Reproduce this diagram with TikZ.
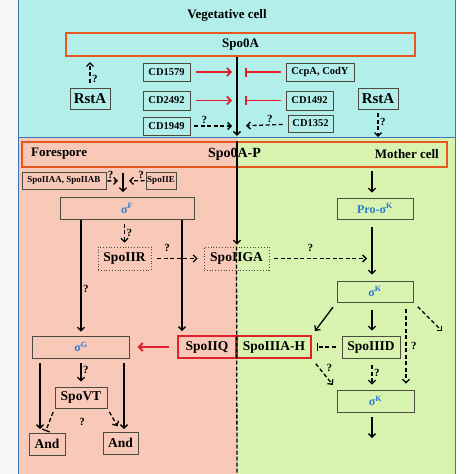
\documentclass[tikz,border=0pt]{standalone}
\usepackage{fontspec}
\setmainfont{Liberation Serif}
\usetikzlibrary{arrows.meta}
\definecolor{vegbg}{HTML}{B2EFEA}
\definecolor{forebg}{HTML}{F8C8B8}
\definecolor{motherbg}{HTML}{D8F3B0}
\definecolor{framec}{HTML}{3D74B8}
\definecolor{orangec}{HTML}{E8581C}
\definecolor{redc}{HTML}{E0202C}
\definecolor{boxline}{HTML}{4A4A40}
\definecolor{sigblue}{HTML}{2C7BD0}
\newcommand{\sgm}[1]{σ\textsuperscript{#1}}
\tikzset{
  sz/.style 2 args={minimum width=#1pt, minimum height=#2pt},
  gene/.style={draw=boxline, line width=0.8pt, inner sep=0pt, font=\bfseries\fontsize{10.5}{12}\selectfont},
  big/.style={gene, font=\bfseries\fontsize{13.5}{15}\selectfont},
  small/.style={gene, font=\bfseries\fontsize{9}{10}\selectfont},
  dotbox/.style={big, dotted},
  sigbox/.style={gene, text=sigblue, font=\bfseries\fontsize{12}{14}\selectfont},
  sporect/.style={draw=orangec, line width=2.4pt, inner sep=0pt, font=\bfseries\fontsize{13}{15}\selectfont},
  redbox/.style={big, draw=redc, line width=2pt},
  lbl/.style={font=\bfseries\fontsize{13}{15}\selectfont, inner sep=0pt},
  q/.style={font=\bfseries\fontsize{11}{12}\selectfont, inner sep=1.5pt},
  arr/.style={-{Straight Barb[length=3.5pt,width=7pt]}, line width=1.3pt},
  darr/.style={arr, dash pattern=on 4pt off 2.5pt},
  redarr/.style={-{Straight Barb[length=4pt,width=8pt]}, line width=1.6pt, draw=redc},
  redbar/.style={-{Bar[width=9pt]}, line width=1.6pt, draw=redc},
  dbar/.style={-{Bar[width=8pt]}, line width=1.3pt, dash pattern=on 4pt off 2.5pt},
  frame/.style={draw=framec, line width=1pt}
}
\begin{document}
\begin{tikzpicture}[x=1pt,y=-1pt]
\useasboundingbox (0,0) rectangle (474,474);
% backgrounds
\fill[white] (0,0) rectangle (474,474);
\fill[gray!7] (0,0) rectangle (18,474);
\fill[vegbg] (18,-5) rectangle (455,137);
\fill[forebg] (18,137) rectangle (237,480);
\fill[motherbg] (237,137) rectangle (455,480);
\draw[frame] (18,-5) rectangle (455,137);
\draw[frame] (18,137) rectangle (455,480);

% vegetative cell
\node[lbl] (veg) at (227,15) {Vegetative cell};
\node[sporect, sz={349}{23}] (spoa) at (240.5,44.5) {Spo0A};
\node[gene, sz={47}{18}] (cdA) at (166.5,72) {CD1579};
\node[gene, sz={68}{18}] (ccp) at (320,72) {CcpA, CodY};
\node[gene, sz={47}{19}] (cdB) at (166.5,100.5) {CD2492};
\node[gene, sz={47}{19}] (cdC) at (309.5,100.5) {CD1492};
\node[gene, sz={47}{18}] (cdD) at (166.5,126) {CD1949};
\node[gene, sz={45}{17}] (cdE) at (310.5,123.5) {CD1352};
\node[big, sz={40}{21}, font=\bfseries\fontsize{15}{17}\selectfont] (rstL) at (90,98.5) {RstA};
\node[big, sz={40}{21}, font=\bfseries\fontsize{15}{17}\selectfont] (rstR) at (378,98.5) {RstA};

% main line
\coordinate (jA) at (237,72);
\coordinate (jB) at (237,100.5);
\coordinate (jC) at (237,126);
\coordinate (rstup) at (90,62);
\coordinate (rstdn) at (378,137);

% forespore / mother cell
\node[sporect, sz={425}{25}, font=\bfseries\fontsize{14}{16}\selectfont] (spoap) at (234.5,154.5) {Spo0A-P};
\node[lbl, anchor=west] (fore) at (31,154) {Forespore};
\node[lbl, anchor=east] (moth) at (439,154) {Mother cell};

\node[small, sz={84}{17}] (iiaa) at (64,180.5) {SpoIIAA, SpoIIAB};
\node[small, sz={30}{17}] (iie) at (161,180.5) {SpoIIE};
\node[sigbox, sz={134}{22}] (sigF) at (127,208.5) {\sgm{F}};
\node[dotbox, sz={53}{23}] (iir) at (124.5,258.5) {SpoIIR};
\node[dotbox, sz={65}{23}] (iiga) at (236.5,258.5) {SpoIIGA};
\node[sigbox, sz={76}{21}] (prosk) at (375,208.5) {Pro-\sgm{K}};
\node[sigbox, sz={76}{21}] (sigK) at (375,291.5) {\sgm{K}};
\node[sigbox, sz={97}{22}] (sigG) at (81,347) {\sgm{G}};
\node[redbox, sz={58}{22}] (iiq) at (207,347) {SpoIIQ};
\node[redbox, sz={74}{22}] (iiia) at (274,347) {SpoIIIA-H};
\node[big, sz={58}{22}] (iiid) at (371,347) {SpoIIID};
\node[big, sz={52}{21}] (spovt) at (81,397.5) {SpoVT};
\node[sigbox, sz={77}{22}] (sigKb) at (375.5,401) {\sgm{K}};
\node[big, sz={36}{22}] (andL) at (47,444) {And};
\node[big, sz={35}{22}] (andR) at (120.5,443) {And};
\node[q] (qvt) at (82,422) {?};

\coordinate (jF) at (123,181);
\coordinate (mc) at (372,0);
\coordinate (qTop) at (182,336);
\coordinate (kOut) at (445,334);
\coordinate (kEnd) at (372,438);
\coordinate (gL) at (40,429);
\coordinate (gR) at (124,429);

% dividing line
\draw[line width=1.3pt, dash pattern=on 4pt off 2pt] (iiga.north) -- (237,474);

% arrows, vegetative cell
\draw[arr, shorten >=5pt] (spoa.south -| jA) -- (jA |- spoap.north);
\draw[arr, shorten >=2pt] (jA |- spoap.north) -- (jA |- iiga.north);
\draw[redarr, shorten <=6pt, shorten >=5pt] (cdA) -- (jA);
\draw[redbar, shorten <=5pt, shorten >=8pt] (ccp) -- (jA);
\draw[redarr, shorten <=6pt, shorten >=5pt] (cdB) -- (jB);
\draw[redbar, shorten <=5pt, shorten >=8pt] (cdC) -- (jB);
\draw[darr, shorten <=4pt, shorten >=5pt] (cdD) -- (jC) node[q, above, pos=0.3] {?};
\draw[darr, shorten <=5pt, shorten >=9pt] (cdE) -- (jC) node[q, above, pos=0.35] {?};
\draw[darr, shorten <=5pt] (rstL) -- (rstup) node[q, right, pos=0.35] {?};
\draw[darr, shorten <=4pt] (rstR) -- (rstdn) node[q, right, pos=0.45] {?};

% arrows, forespore
\draw[darr, shorten <=1pt, shorten >=5pt] (iiaa) -- (jF) node[q, above, pos=0.25] {?};
\draw[darr, shorten <=1pt, shorten >=6pt] (iie) -- (jF) node[q, above, pos=0.2] {?};
\draw[arr, shorten <=5pt, shorten >=5pt] (jF |- spoap.south) -- (jF |- sigF.north);
\draw[darr, shorten <=4pt, shorten >=4pt] (sigF.south -| iir) -- (iir.north) node[q, right, pos=0.5] {?};
\draw[darr, shorten <=6pt, shorten >=6pt] (iir) -- (iiga) node[q, above=5pt, pos=0.3] {?};
\draw[arr, shorten >=4pt] (sigF.south -| sigG) -- (sigG.north) node[q, right, pos=0.6] {?};
\draw[arr, shorten >=5pt] (sigF.south -| qTop) -- (qTop);
\draw[redarr, line width=2pt, shorten <=8pt, shorten >=7.5pt] (iiq) -- (sigG);
\draw[arr, shorten <=5pt, shorten >=5pt] (sigG.south) -- (spovt.north) node[q, right, pos=0.4] {?};
\draw[arr, shorten <=5pt] (sigG.south -| gL) -- (gL);
\draw[arr, shorten <=5pt] (sigG.south -| gR) -- (gR);
\draw[dbar, shorten <=4pt, shorten >=2pt] (spovt.south west) -- ([xshift=5pt,yshift=-4pt]gL);
\draw[darr, shorten <=4pt, shorten >=6pt] (spovt.south east) -- (andR.north);

% arrows, mother cell
\draw[darr, shorten <=5pt, shorten >=5pt] (iiga) -- (iiga -| mc) node[q, above=5pt, pos=0.4] {?};
\draw[arr, shorten <=3pt, shorten >=5pt] (mc |- spoap.south) -- (mc |- prosk.north);
\draw[arr, shorten <=8pt, shorten >=6pt] (mc |- prosk.south) -- (mc |- sigK.north);
\draw[arr, shorten <=6pt, shorten >=5pt] (sigK.south west) -- (iiia.north east);
\draw[arr, shorten <=8pt, shorten >=5pt] (mc |- sigK.south) -- (mc |- iiid.north);
\draw[darr, shorten <=7pt, shorten >=6pt] ([xshift=34pt]mc |- sigK.south) -- ([xshift=34pt]mc |- sigKb.north) node[q, right=3pt, pos=0.5] {?};
\draw[darr, shorten <=6pt, shorten >=4pt] (sigK.south east) -- (kOut);
\draw[dbar, shorten <=6pt, shorten >=5pt] (iiid) -- (iiia);
\draw[darr, shorten <=6pt, shorten >=6pt] (iiia.south east) -- (sigKb.north west) node[q, right=5pt, pos=0.3] {?};
\draw[darr, shorten <=7pt, shorten >=5pt] (mc |- iiid.south) -- (mc |- sigKb.north) node[q, right, pos=0.45] {?};
\draw[arr, shorten <=5pt] (mc |- sigKb.south) -- (kEnd);

\end{tikzpicture}
\end{document}
